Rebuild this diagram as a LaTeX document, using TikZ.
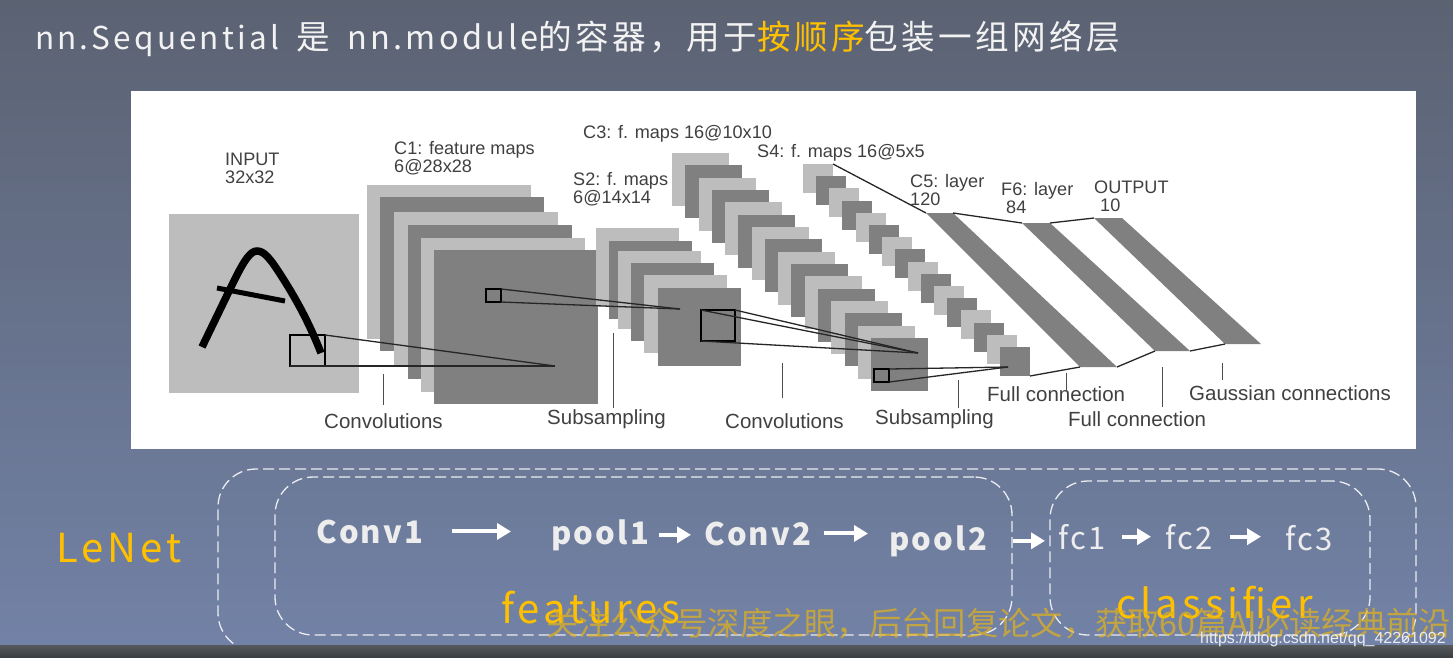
\documentclass[tikz,border=0pt]{standalone}
\usepackage{fontspec}
\setmainfont{Liberation Sans}
\newfontfamily\cjkfont[LetterSpace=10]{Noto Sans CJK SC}
\newfontfamily\modulefont[LetterSpace=7]{Noto Sans CJK SC}
\newfontfamily\markfont{Noto Sans CJK SC}
\usetikzlibrary{positioning, calc, arrows.meta}
\definecolor{slidetop}{HTML}{5B6272}
\definecolor{slidebottom}{HTML}{7282A6}
\definecolor{sheetlight}{HTML}{BDBDBD}
\definecolor{sheetdark}{HTML}{808080}
\definecolor{accent}{HTML}{FFC000}
\definecolor{edgetop}{HTML}{55595C}
\definecolor{edgebottom}{HTML}{3C3F42}
\tikzset{
	lightsheet/.style={fill=sheetlight, anchor=north west, inner sep=0, outer sep=0},
	darksheet/.style={fill=sheetdark, anchor=north west, inner sep=0, outer sep=0},
	window/.style={draw=black, line width=1.3pt, anchor=north west, inner sep=0, outer sep=0},
	ray/.style={draw=black!85, line width=1.3pt},
	caption/.style={font=\fontsize{18.1}{18}\selectfont, text=black!75, anchor=base west, inner sep=0, align=left},
	stage/.style={font=\fontsize{20.5}{20}\selectfont, text=black!75, anchor=base west, inner sep=0},
	tick/.style={draw=black!70, line width=1pt},
	stripe/.style={fill=sheetdark},
	module/.style={font=\modulefont\bfseries\fontsize{31}{31}\selectfont, text=white!93!black, anchor=base west, inner sep=0},
	fcmodule/.style={font=\modulefont\fontsize{31}{31}\selectfont, text=white!93!black, anchor=base west, inner sep=0},
	tag/.style={font=\cjkfont\fontsize{40}{40}\selectfont, text=accent, anchor=base west, inner sep=0},
	flow/.style={-{Triangle[length=14pt,width=16pt]}, draw=white, line width=4pt},
	groupbox/.style={draw=white!85!slidebottom, line width=1.3pt, dash pattern=on 11pt off 5pt, rounded corners=38pt, anchor=north west, inner sep=0, outer sep=0}
}
\begin{document}
\begin{tikzpicture}[x=1pt, y=-1pt]
	\useasboundingbox (0,0) rectangle (1453,657);
	\fill[top color=slidetop, bottom color=slidebottom] (0,0) rectangle (1453,645);
	\fill[white] (131,91) rectangle (1416,449);

	\node[font=\cjkfont\fontsize{33.6}{33}\selectfont, text=white!95!black, anchor=base west, inner sep=0] (title) at (35,49) {{\fontsize{31.5}{31}\selectfont nn.Sequential}\hspace{7pt} 是\hspace{6pt} {\fontsize{32.5}{31}\selectfont nn.module}的容器，用于{\color{accent}按顺序}包装一组网络层};

	% input image
	\node[lightsheet, minimum width=190pt, minimum height=179pt] (input) at (169,214) {};
	\draw[line width=7.5pt] (202,347) -- (232,285) .. controls (245,258) and (251,251) .. (257,251) .. controls (264,251) and (270,258) .. (282,277) .. controls (298,302) and (310,325) .. (321,353);
	\draw[line width=5pt] (217,288) -- (285,301);

	% feature map stacks
	\foreach \x/\y/\tone [count=\i] in {367/185/lightsheet, 380/197/darksheet, 394/212/lightsheet, 408/225/darksheet, 421/238/lightsheet, 434/250/darksheet}
		\node[\tone, minimum width=164pt, minimum height=154pt] (c1-\i) at (\x,\y) {};
	\foreach \x/\y/\tone [count=\i] in {596/228/lightsheet, 609/241/darksheet, 618/251/lightsheet, 631/263/darksheet, 644/275/lightsheet, 658/288/darksheet}
		\node[\tone, minimum width=83pt, minimum height=78pt] (s2-\i) at (\x,\y) {};
	\foreach \i in {0,...,15} {
		\pgfmathsetmacro{\tone}{ifthenelse(mod(\i,2)==0,"lightsheet","darksheet")}
		\node[\tone, minimum width=57pt, minimum height=53pt] (c3-\i) at (672+13.27*\i,153+12.33*\i) {};
	}
	\foreach \i in {0,...,15} {
		\pgfmathsetmacro{\tone}{ifthenelse(mod(\i,2)==0,"lightsheet","darksheet")}
		\node[\tone, minimum width=30pt, minimum height=29pt] (s4-\i) at (803+13.13*\i,164+12.2*\i) {};
	}

	% fully connected layers
	\coordinate (c5a) at (926,213); \coordinate (c5b) at (953,213);
	\coordinate (c5c) at (1117,367); \coordinate (c5d) at (1080,367);
	\coordinate (f6a) at (1022,223); \coordinate (f6b) at (1050,223);
	\coordinate (f6c) at (1190,351); \coordinate (f6d) at (1155,351);
	\coordinate (outa) at (1094,218); \coordinate (outb) at (1122,218);
	\coordinate (outc) at (1261,344); \coordinate (outd) at (1225,344);
	\fill[stripe] (c5a) -- (c5b) -- (c5c) -- (c5d) -- cycle;
	\fill[stripe] (f6a) -- (f6b) -- (f6c) -- (f6d) -- cycle;
	\fill[stripe] (outa) -- (outb) -- (outc) -- (outd) -- cycle;
	\draw[ray] (s4-0.north east) -- (c5a);
	\draw[ray] (c5b) -- (f6a);
	\draw[ray] (f6b) -- (outa);
	\draw[ray] (s4-15.south east) -- (c5d);
	\draw[ray] (c5c) -- (f6d);
	\draw[ray] (f6c) -- (outd);

	% receptive windows
	\coordinate (apex1) at (555,366);
	\coordinate (apex2) at (680,309);
	\coordinate (apex3) at (918,353);
	\coordinate (apex4) at (1008,367);
	\node[window, minimum width=35pt, minimum height=31pt] (win1) at (290,335) {};
	\draw[ray] (win1.north east) -- (apex1);
	\draw[ray] (win1.south west) -- (apex1);
	\node[window, minimum width=15pt, minimum height=13pt] (win2) at (486,289) {};
	\draw[ray] (win2.north east) -- (apex2);
	\draw[ray] (win2.south east) -- (apex2);
	\node[window, minimum width=34pt, minimum height=31pt] (win3) at (701,310) {};
	\draw[ray] (win3.north west) -- (apex3);
	\draw[ray] (win3.north east) -- (apex3);
	\draw[ray] (win3.south west) -- (apex3);
	\node[window, minimum width=15pt, minimum height=13pt] (win4) at (874,369) {};
	\draw[ray] (win4.north east) -- (apex4);
	\draw[ray] (win4.south east) -- (apex4);

	% labels, the baseline given is that of the last line
	\node[caption] (lblinput) at (225,183) {INPUT\\[-0.5pt]32x32};
	\node[caption] (lblc1) at (394,172) {C1: feature maps\\[-0.5pt]6@28x28};
	\node[caption] (lblc3) at (583,138) {C3: f. maps 16@10x10};
	\node[caption] (lbls2) at (573,203) {S2: f. maps\\[-0.5pt]6@14x14};
	\node[caption] (lbls4) at (757,157) {S4: f. maps 16@5x5};
	\node[caption] (lblc5) at (910,205) {C5: layer\\[-0.5pt]120};
	\node[caption] (lblf6) at (1001,213) {F6: layer\\[-0.5pt]\hspace*{5pt}84};
	\node[caption] (lblout) at (1094,211) {OUTPUT\\[-0.5pt]\hspace*{6pt}10};

	\node[stage] (conv-a) at (324,428) {Convolutions};
	\node[stage] (sub-a) at (547,424) {Subsampling};
	\node[stage] (conv-b) at (725,428) {Convolutions};
	\node[stage] (sub-b) at (875,424) {Subsampling};
	\node[stage] (full-a) at (987,401) {Full connection};
	\node[stage] (full-b) at (1068,426) {Full connection};
	\node[stage] (gauss) at (1189,400) {Gaussian connections};

	\draw[tick] (383,374) -- (383,405);
	\draw[tick] (613,333) -- (613,408);
	\draw[tick] (782,363) -- (782,398);
	\draw[tick] (958,380) -- (958,408);
	\draw[tick] (1066,373) -- (1066,390);
	\draw[tick] (1162,367) -- (1162,407);
	\draw[tick] (1222,363) -- (1222,380);

	% module row
	\node[groupbox, minimum width=1198pt, minimum height=182pt] (lenetbox) at (218,469) {};
	\node[groupbox, minimum width=737pt, minimum height=158pt] (featbox) at (275,477) {};
	\node[groupbox, minimum width=320pt, minimum height=154pt] (clsbox) at (1050,481) {};

	\node[tag] (lenet) at (56,562) {LeNet};
	\node[module] (conv1) at (316,543) {Conv1};
	\node[module] (pool1) at (551,544) {pool1};
	\node[module] (conv2) at (704,545) {Conv2};
	\node[module] (pool2) at (889,550) {pool2};
	\node[fcmodule] (fc1) at (1058,549) {fc1};
	\node[fcmodule] (fc2) at (1165,549) {fc2};
	\node[fcmodule] (fc3) at (1285,550) {fc3};
	\node[tag] (features) at (501,623) {features};
	\node[tag] (classifier) at (1116,618) {classifier};

	\draw[flow, shorten <=28pt, shorten >=40pt] (conv1.east) -- (conv1.east -| pool1.west);
	\draw[flow, shorten <=10pt, shorten >=13pt] (pool1.east) -- (pool1.east -| conv2.west);
	\draw[flow, shorten <=12pt, shorten >=21pt] (conv2.east) -- (conv2.east -| pool2.west);
	\draw[flow, shorten <=26pt, shorten >=13pt] (pool2.east) -- (pool2.east -| fc1.west);
	\draw[flow, shorten <=16pt, shorten >=14pt] (fc1.east) -- (fc1.east -| fc2.west);
	\draw[flow, shorten <=17pt, shorten >=24pt] (fc2.east) -- (fc2.east -| fc3.west);

	% bottom edge and overlays
	\fill[top color=edgetop, bottom color=edgebottom] (0,645) rectangle (1453,657);
	\node[font=\markfont\fontsize{32.3}{32}\selectfont, text=accent!80!gray, opacity=.7, anchor=base west, inner sep=0] (watermark) at (546,635) {关注公众号深度之眼，后台回复论文，获取60篇AI必读经典前沿};
	\node[font=\fontsize{16}{16}\selectfont, text=white!85!slidebottom, anchor=base west, inner sep=0] (url) at (1200,643) {https://blog.csdn.net/qq\_42261092};
\end{tikzpicture}
\end{document}
